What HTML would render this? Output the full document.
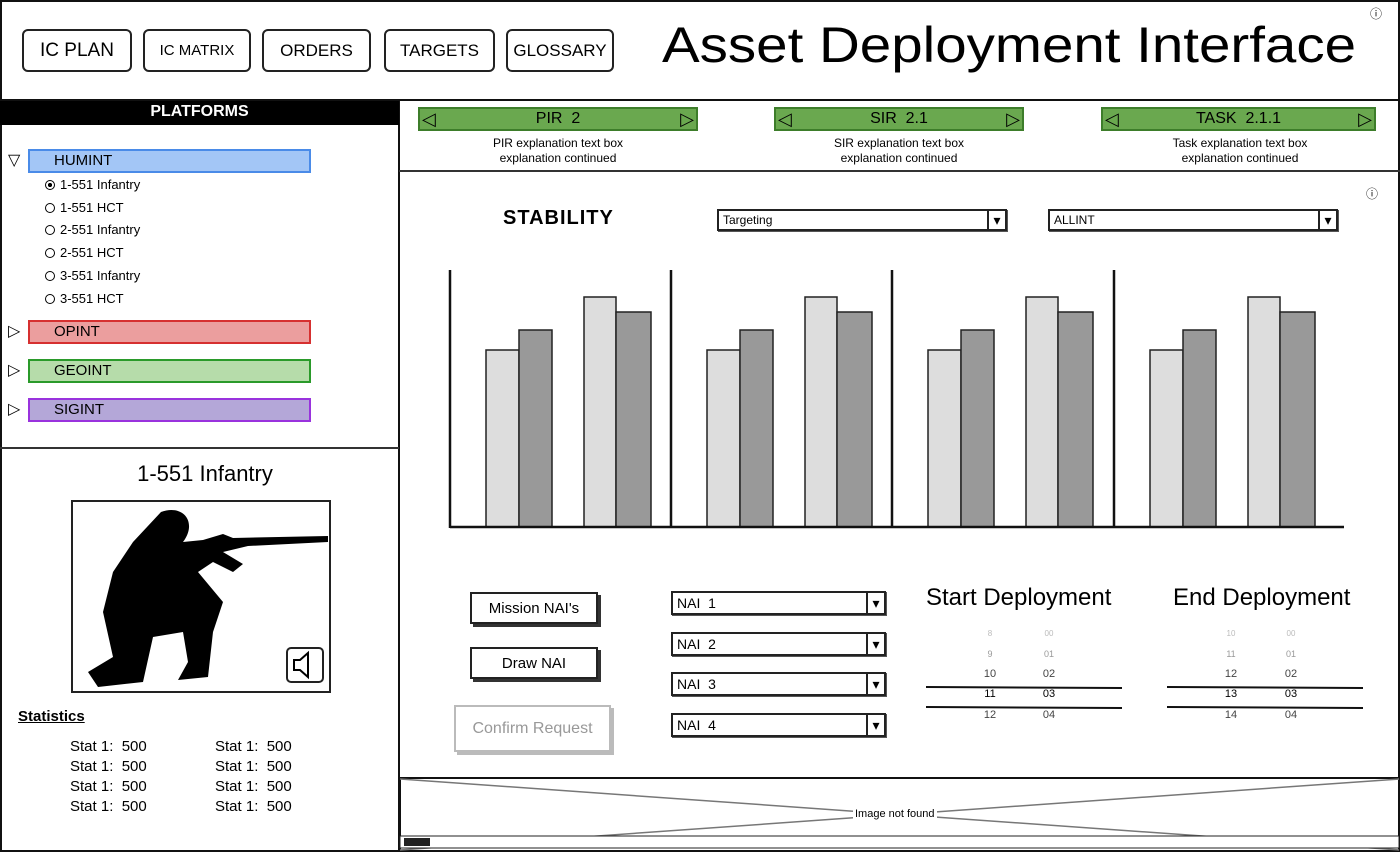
<!DOCTYPE html>
<html><head><style>
*{margin:0;padding:0;box-sizing:border-box}
body{width:1400px;height:852px;position:relative;background:#fff;font-family:"Liberation Sans",sans-serif;color:#000;overflow:hidden}
.a{position:absolute}
.btn{position:absolute;border:2px solid #222;border-radius:6px;display:flex;align-items:center;justify-content:center;font-size:17px}
.cat{position:absolute;left:28px;width:283px;height:24px;border:2px solid;font-size:15px;padding-left:24px;line-height:20px}
.tri{position:absolute;left:8px;font-size:16px}
.rad{position:absolute;left:45px;font-size:13px}
.rad i{display:inline-block;width:10px;height:10px;border:1px solid #000;border-radius:50%;margin-right:5px;vertical-align:-1px;position:relative}
.gbar{position:absolute;height:24px;background:#6aa84f;border:2px solid #3d7d2a;text-align:center;font-size:16px;line-height:20px}
.gbar:before{content:"◁";position:absolute;left:2px;font-size:18px}
.gbar:after{content:"▷";position:absolute;right:2px;font-size:18px}
.exp{position:absolute;font-size:12px;text-align:center;line-height:15px}
.dd{position:absolute;border:2px solid #222;font-size:12px;padding-left:4px;line-height:18px;box-shadow:1px 1px 0 #555}
.dd:after{content:"▾";position:absolute;right:0;top:0;width:16px;height:100%;border-left:2px solid #222;text-align:center;font-size:14px}
.sbtn{position:absolute;border:2px solid #222;box-shadow:3px 3px 0 #333;display:flex;align-items:center;justify-content:center;font-size:15px}
.n{position:absolute;font-size:11px;text-align:center;width:30px}
.st{position:absolute;font-size:15px}
</style></head><body>
<div class="a" style="left:0;top:0;width:1400px;height:852px;border:2px solid #111"></div>
<div class="a" style="left:0;top:99px;width:1400px;height:2px;background:#111"></div>
<div class="a" style="left:398px;top:100px;width:2px;height:752px;background:#111"></div>
<div class="a" style="left:399px;top:170px;width:1001px;height:2px;background:#333"></div>
<div class="a" style="left:0;top:447px;width:399px;height:2px;background:#333"></div>
<div class="a" style="left:1370px;top:5px;font-size:12px">ⓘ</div>

<div class="btn" style="left:22px;top:29px;width:110px;height:43px;font-size:19px">IC PLAN</div>
<div class="btn" style="left:143px;top:29px;width:108px;height:43px;font-size:15px">IC MATRIX</div>
<div class="btn" style="left:262px;top:29px;width:109px;height:43px">ORDERS</div>
<div class="btn" style="left:384px;top:29px;width:111px;height:43px">TARGETS</div>
<div class="btn" style="left:506px;top:29px;width:108px;height:43px">GLOSSARY</div>
<div class="a" style="left:662px;top:16px;font-size:50px;white-space:nowrap;transform:scaleX(1.13);transform-origin:0 0">Asset Deployment Interface</div>

<div class="a" style="left:0;top:101px;width:399px;height:24px;background:#000;color:#fff;text-align:center;font-size:16px;line-height:22px;font-weight:bold">PLATFORMS</div>
<div class="tri" style="top:150px">▽</div>
<div class="cat" style="top:149px;background:#a3c6f6;border-color:#4a8be8">HUMINT</div>
<div class="rad" style="top:177px"><i style="background:radial-gradient(#000 35%,#fff 40%)"></i>1-551 Infantry</div>
<div class="rad" style="top:200px"><i></i>1-551 HCT</div>
<div class="rad" style="top:222px"><i></i>2-551 Infantry</div>
<div class="rad" style="top:245px"><i></i>2-551 HCT</div>
<div class="rad" style="top:268px"><i></i>3-551 Infantry</div>
<div class="rad" style="top:291px"><i></i>3-551 HCT</div>
<div class="tri" style="top:321px">▷</div>
<div class="cat" style="top:320px;background:#eb9e9e;border-color:#d63030">OPINT</div>
<div class="tri" style="top:360px">▷</div>
<div class="cat" style="top:359px;background:#b6dcaa;border-color:#2a9a2a">GEOINT</div>
<div class="tri" style="top:399px">▷</div>
<div class="cat" style="top:398px;background:#b4a7d8;border-color:#9933dd">SIGINT</div>

<div class="a" style="left:0;top:461px;width:410px;text-align:center;font-size:22px">1-551 Infantry</div>
<div class="a" style="left:71px;top:500px;width:260px;height:193px;border:2px solid #222"></div>
<svg class="a" style="left:73px;top:502px" width="256" height="189">
<path d="M88 10 C110 2 125 20 110 40 L130 38 L150 32 L160 36 L255 34 L255 40 L175 44 L150 50 L170 62 L160 70 L140 60 L125 70 L150 100 L140 130 L135 175 L105 178 L115 160 L110 130 L80 135 L70 180 L25 185 L15 170 L40 155 L30 110 L40 70 L60 40 Z" fill="#000"/>
<rect x="214" y="146" width="36" height="34" fill="#fff" stroke="#222" stroke-width="2" rx="4"/>
<path d="M221 158h6l8-7v24l-8-7h-6z" fill="none" stroke="#000" stroke-width="2"/>
</svg>
<div class="a" style="left:18px;top:708px;font-size:15px;font-weight:bold;text-decoration:underline">Statistics</div>
<div class="st" style="left:70px;top:738px">Stat 1:&nbsp; 500</div><div class="st" style="left:215px;top:738px">Stat 1:&nbsp; 500</div>
<div class="st" style="left:70px;top:758px">Stat 1:&nbsp; 500</div><div class="st" style="left:215px;top:758px">Stat 1:&nbsp; 500</div>
<div class="st" style="left:70px;top:778px">Stat 1:&nbsp; 500</div><div class="st" style="left:215px;top:778px">Stat 1:&nbsp; 500</div>
<div class="st" style="left:70px;top:798px">Stat 1:&nbsp; 500</div><div class="st" style="left:215px;top:798px">Stat 1:&nbsp; 500</div>

<div class="gbar" style="left:418px;top:107px;width:280px">PIR&nbsp; 2</div>
<div class="gbar" style="left:774px;top:107px;width:250px">SIR&nbsp; 2.1</div>
<div class="gbar" style="left:1101px;top:107px;width:275px">TASK&nbsp; 2.1.1</div>
<div class="exp" style="left:458px;top:136px;width:200px">PIR explanation text box<br>explanation continued</div>
<div class="exp" style="left:799px;top:136px;width:200px">SIR explanation text box<br>explanation continued</div>
<div class="exp" style="left:1140px;top:136px;width:200px">Task explanation text box<br>explanation continued</div>

<div class="a" style="left:1366px;top:185px;font-size:12px">ⓘ</div>
<div class="a" style="left:503px;top:207px;font-size:20px;font-weight:bold;letter-spacing:1px">STABILITY</div>
<div class="dd" style="left:717px;top:209px;width:290px;height:22px">Targeting</div>
<div class="dd" style="left:1048px;top:209px;width:290px;height:22px">ALLINT</div>

<svg class="a" style="left:0;top:0" width="1400" height="852">
<g id="g">
<line x1="450" y1="270" x2="450" y2="528" stroke="#111" stroke-width="2.5"/>
<rect x="486" y="350" width="33" height="177" fill="#ddd" stroke="#222" stroke-width="1.5"/>
<rect x="519" y="330" width="33" height="197" fill="#999" stroke="#222" stroke-width="1.5"/>
<rect x="584" y="297" width="32" height="230" fill="#ddd" stroke="#222" stroke-width="1.5"/>
<rect x="616" y="312" width="35" height="215" fill="#999" stroke="#222" stroke-width="1.5"/>
</g>
<use href="#g" x="221"/><use href="#g" x="442"/><use href="#g" x="664"/>
<line x1="450" y1="527" x2="1344" y2="527" stroke="#111" stroke-width="2.5"/>
<line x1="926" y1="687" x2="1122" y2="688" stroke="#111" stroke-width="2"/>
<line x1="926" y1="707" x2="1122" y2="708" stroke="#111" stroke-width="2"/>
<line x1="1167" y1="687" x2="1363" y2="688" stroke="#111" stroke-width="2"/>
<line x1="1167" y1="707" x2="1363" y2="708" stroke="#111" stroke-width="2"/>
<rect x="400" y="778" width="999" height="73" fill="#fff" stroke="#111" stroke-width="2"/>
<line x1="400" y1="779" x2="1399" y2="850" stroke="#777" stroke-width="1.5"/>
<line x1="1399" y1="779" x2="400" y2="850" stroke="#777" stroke-width="1.5"/>
<rect x="400" y="836" width="999" height="12" fill="#fff" stroke="#222"/>
<rect x="404" y="838" width="26" height="8" fill="#222"/>
</svg>
<div class="a" style="left:853px;top:808px;font-size:11px;background:#fff;padding:0 2px">Image not found</div>

<div class="sbtn" style="left:470px;top:592px;width:128px;height:32px">Mission NAI's</div>
<div class="sbtn" style="left:470px;top:647px;width:128px;height:32px">Draw NAI</div>
<div class="sbtn" style="left:454px;top:705px;width:157px;height:47px;border-color:#bbb;box-shadow:3px 3px 0 #bbb;color:#999;font-size:16px">Confirm Request</div>
<div class="dd" style="left:671px;top:591px;width:215px;height:24px;font-size:14px;line-height:20px">NAI&nbsp; 1</div>
<div class="dd" style="left:671px;top:632px;width:215px;height:24px;font-size:14px;line-height:20px">NAI&nbsp; 2</div>
<div class="dd" style="left:671px;top:672px;width:215px;height:24px;font-size:14px;line-height:20px">NAI&nbsp; 3</div>
<div class="dd" style="left:671px;top:713px;width:215px;height:24px;font-size:14px;line-height:20px">NAI&nbsp; 4</div>

<div class="a" style="left:926px;top:584px;font-size:24px">Start Deployment</div>
<div class="a" style="left:1173px;top:584px;font-size:24px">End Deployment</div>
<div class="n" style="left:975px;top:629px;color:#bbb;font-size:8px">8</div><div class="n" style="left:1034px;top:629px;color:#bbb;font-size:8px">00</div>
<div class="n" style="left:975px;top:649px;color:#999;font-size:9px">9</div><div class="n" style="left:1034px;top:649px;color:#999;font-size:9px">01</div>
<div class="n" style="left:975px;top:668px;color:#444">10</div><div class="n" style="left:1034px;top:668px;color:#444">02</div>
<div class="n" style="left:975px;top:688px">11</div><div class="n" style="left:1034px;top:688px">03</div>
<div class="n" style="left:975px;top:709px;color:#444">12</div><div class="n" style="left:1034px;top:709px;color:#444">04</div>
<div class="n" style="left:1216px;top:629px;color:#bbb;font-size:8px">10</div><div class="n" style="left:1276px;top:629px;color:#bbb;font-size:8px">00</div>
<div class="n" style="left:1216px;top:649px;color:#999;font-size:9px">11</div><div class="n" style="left:1276px;top:649px;color:#999;font-size:9px">01</div>
<div class="n" style="left:1216px;top:668px;color:#444">12</div><div class="n" style="left:1276px;top:668px;color:#444">02</div>
<div class="n" style="left:1216px;top:688px">13</div><div class="n" style="left:1276px;top:688px">03</div>
<div class="n" style="left:1216px;top:709px;color:#444">14</div><div class="n" style="left:1276px;top:709px;color:#444">04</div>
</body></html>
